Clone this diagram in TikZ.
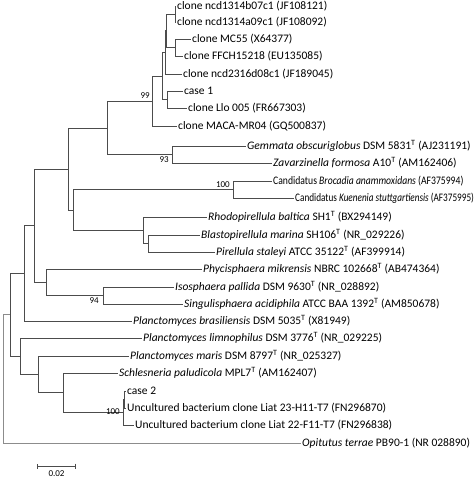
\documentclass[tikz,border=0pt]{standalone}
\usepackage{graphicx}
\usepackage{fontspec}
\setmainfont{Carlito}
\usetikzlibrary{arrows.meta,positioning}

\begin{document}
\begin{tikzpicture}[
    x=1pt, y=-1pt,
    font=\fontsize{11.5}{13}\selectfont,
    taxon/.style={anchor=west, inner sep=1pt},
    support/.style={font=\fontsize{9}{10}\selectfont, inner sep=0pt},
    branch/.style={draw=black!70, line width=0.8pt},
    rootbranch/.style={branch, draw=black!45},
    scalebar/.style={branch, {Bar[width=5pt]}-{Bar[width=5pt]}}
]
    \useasboundingbox (0,0) rectangle (474,479);

    \node[taxon] (ncdb) at (176,6) {clone ncd1314b07c1 (JF108121)};
    \node[taxon] (ncda) at (176,22) {clone ncd1314a09c1 (JF108092)};
    \node[taxon] (mcfive) at (191,39) {clone MC55 (X64377)};
    \node[taxon] (ffch) at (183,56) {clone FFCH15218 (EU135085)};
    \node[taxon] (ncdd) at (182,74) {clone ncd2316d08c1 (JF189045)};
    \node[taxon] (caseone) at (183,91) {case 1};
    \node[taxon] (llo) at (187,108) {clone Llo 005 (FR667303)};
    \node[taxon] (maca) at (177,126) {clone MACA-MR04 (GQ500837)};
    \node[taxon] (gemmata) at (246,146) {\textit{Gemmata obscuriglobus} DSM 5831\textsuperscript{T} (AJ231191)};
    \node[taxon] (zavar) at (272,163) {\textit{Zavarzinella formosa} A10\textsuperscript{T} (AM162406)};
    \node[taxon] (brocadia) at (272,181) {\scalebox{0.84}[1]{Candidatus \textit{Brocadia anammoxidans} (AF375994)}};
    \node[taxon] (kuenenia) at (294,198) {\scalebox{0.8}[1]{Candidatus \textit{Kuenenia stuttgartiensis} (AF375995)}};
    \node[taxon] (rhodo) at (207,217) {\textit{Rhodopirellula baltica} SH1\textsuperscript{T} (BX294149)};
    \node[taxon] (blasto) at (200,235) {\textit{Blastopirellula marina} SH106\textsuperscript{T} (NR\_029226)};
    \node[taxon] (pirellula) at (215,252) {\textit{Pirellula staleyi} ATCC 35122\textsuperscript{T} (AF399914)};
    \node[taxon] (phycis) at (202,269) {\textit{Phycisphaera mikrensis} NBRC 102668\textsuperscript{T} (AB474364)};
    \node[taxon] (isos) at (174,287) {\textit{Isosphaera pallida} DSM 9630\textsuperscript{T} (NR\_028892)};
    \node[taxon] (singul) at (183,304) {\textit{Singulisphaera acidiphila} ATCC BAA 1392\textsuperscript{T} (AM850678)};
    \node[taxon] (brasil) at (132,321) {\textit{Planctomyces brasiliensis} DSM 5035\textsuperscript{T} (X81949)};
    \node[taxon] (limno) at (142,338) {\textit{Planctomyces limnophilus} DSM 3776\textsuperscript{T} (NR\_029225)};
    \node[taxon] (maris) at (129,356) {\textit{Planctomyces maris} DSM 8797\textsuperscript{T} (NR\_025327)};
    \node[taxon] (schles) at (118,373) {\textit{Schlesneria paludicola} MPL7\textsuperscript{T} (AM162407)};
    \node[taxon] (casetwo) at (126,391) {case 2};
    \node[taxon] (liatA) at (126,408) {Uncultured bacterium clone Liat 23-H11-T7 (FN296870)};
    \node[taxon] (liatB) at (134,425) {Uncultured bacterium clone Liat 22-F11-T7 (FN296838)};
    \node[taxon] (opitutus) at (301,443) {\textit{Opitutus terrae} PB90-1 (NR 028890)};

    \coordinate (ncdpair) at (175,14);
    \coordinate (mcpair) at (175,47.5);
    \coordinate (clonesA) at (166,30.75);
    \coordinate (clonesB) at (165,52.4);
    \coordinate (llopair) at (167,99.5);
    \coordinate (clonesC) at (162,76);
    \coordinate (bsninetynine) at (152,101);
    \coordinate (bsninetythree) at (172,154.5);
    \coordinate (gemmclade) at (107,128);
    \coordinate (bsanammox) at (233,189.5);
    \coordinate (pirpair) at (148,243.5);
    \coordinate (pirclade) at (143,230);
    \coordinate (anapir) at (73,210);
    \coordinate (upperclade) at (68,169);
    \coordinate (bsninetyfour) at (103,295.5);
    \coordinate (phyclade) at (46,282);
    \coordinate (midclade) at (34,225.5);
    \coordinate (brasclade) at (24,273);
    \coordinate (liatpair) at (124.5,399.5);
    \coordinate (bsliat) at (123,412);
    \coordinate (schclade) at (63,392.5);
    \coordinate (marclade) at (38,374);
    \coordinate (limclade) at (20,356);
    \coordinate (ingroup) at (10,314.5);
    \coordinate (treeroot) at (3,379);

    \draw[branch] (ncdpair) |- (ncdb.west);
    \draw[branch] (ncdpair) |- (ncda.west);
    \draw[branch] (mcpair) |- (mcfive.west);
    \draw[branch] (mcpair) |- (ffch.west);
    \draw[branch] (clonesA) |- (ncdpair);
    \draw[branch] (clonesA) |- (mcpair);
    \draw[branch] (clonesB) |- (clonesA);
    \draw[branch] (clonesB) |- (ncdd.west);
    \draw[branch] (llopair) |- (caseone.west);
    \draw[branch] (llopair) |- (llo.west);
    \draw[branch] (clonesC) |- (clonesB);
    \draw[branch] (clonesC) |- (llopair);
    \draw[branch] (bsninetynine) |- (clonesC);
    \draw[branch] (bsninetynine) |- (maca.west);
    \draw[branch] (bsninetythree) |- (gemmata.west);
    \draw[branch] (bsninetythree) |- (zavar.west);
    \draw[branch] (gemmclade) |- (bsninetynine);
    \draw[branch] (gemmclade) |- (bsninetythree);
    \draw[branch] (bsanammox) |- (brocadia.west);
    \draw[branch] (bsanammox) |- (kuenenia.west);
    \draw[branch] (pirpair) |- (blasto.west);
    \draw[branch] (pirpair) |- (pirellula.west);
    \draw[branch] (pirclade) |- (rhodo.west);
    \draw[branch] (pirclade) |- (pirpair);
    \draw[branch] (anapir) |- (bsanammox);
    \draw[branch] (anapir) |- (pirclade);
    \draw[branch] (upperclade) |- (gemmclade);
    \draw[branch] (upperclade) |- (anapir);
    \draw[branch] (bsninetyfour) |- (isos.west);
    \draw[branch] (bsninetyfour) |- (singul.west);
    \draw[branch] (phyclade) |- (phycis.west);
    \draw[branch] (phyclade) |- (bsninetyfour);
    \draw[branch] (midclade) |- (upperclade);
    \draw[branch] (midclade) |- (phyclade);
    \draw[branch] (brasclade) |- (midclade);
    \draw[branch] (brasclade) |- (brasil.west);
    \draw[branch] (liatpair) |- (casetwo.west);
    \draw[branch] (liatpair) |- (liatA.west);
    \draw[branch] (bsliat) |- (liatpair);
    \draw[branch] (bsliat) |- (liatB.west);
    \draw[branch] (schclade) |- (schles.west);
    \draw[branch] (schclade) |- (bsliat);
    \draw[branch] (marclade) |- (maris.west);
    \draw[branch] (marclade) |- (schclade);
    \draw[branch] (limclade) |- (limno.west);
    \draw[branch] (limclade) |- (marclade);
    \draw[branch] (ingroup) |- (brasclade);
    \draw[branch] (ingroup) |- (limclade);
    \draw[rootbranch] (treeroot) |- (ingroup);
    \draw[rootbranch] (treeroot) |- (opitutus.west);

    \node[support, above left=2pt and 2pt of bsninetynine] {99};
    \node[support, below left=2pt and 3pt of bsninetythree] {93};
    \node[support, above left=2pt and 3pt of bsanammox] {100};
    \node[support, below left=2pt and 4pt of bsninetyfour] {94};
    \node[support, left=3pt of bsliat] {100};

    \coordinate (barstart) at (37,466);
    \coordinate (barend) at (76,466);
    \draw[scalebar] (barstart) -- (barend) node[support, midway, below=4pt] {0.02};
\end{tikzpicture}
\end{document}
